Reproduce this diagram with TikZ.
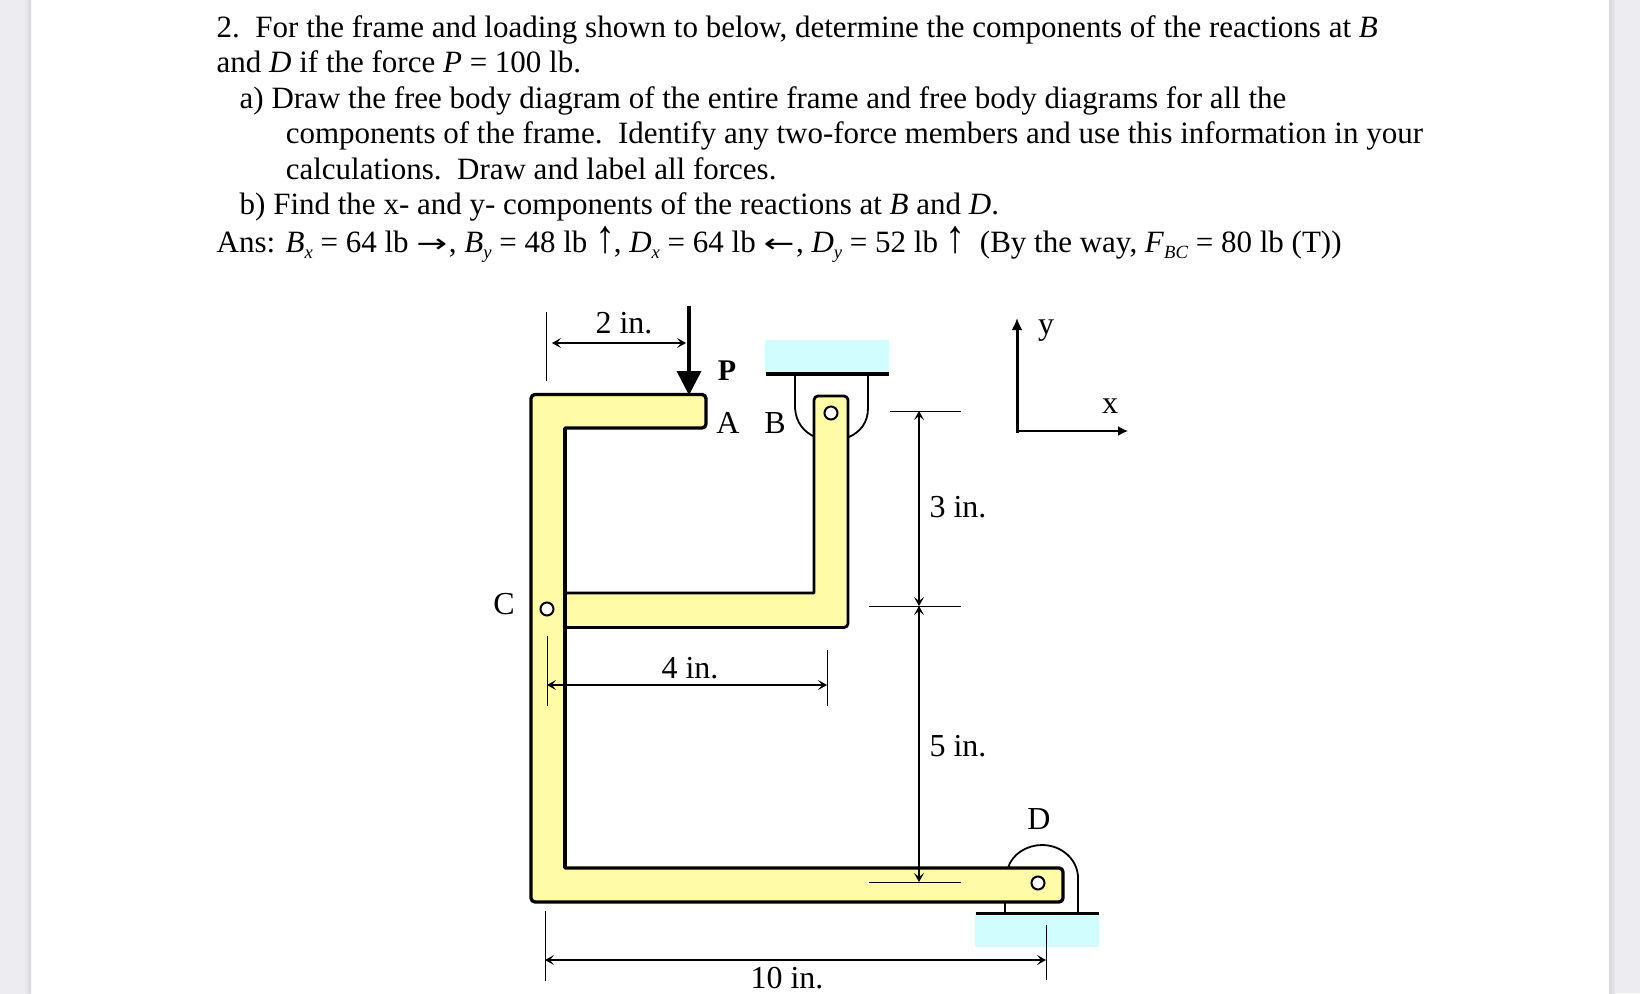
\documentclass[tikz,border=0pt]{standalone}
\usepackage{fontspec}
\setmainfont{Liberation Serif}
\newfontfamily\arrowfont{DejaVu Sans}
\usetikzlibrary{arrows.meta}
\definecolor{frameyellow}{HTML}{FFFBA6}
\definecolor{supportcyan}{HTML}{D2FDFE}
\definecolor{bandgray}{HTML}{ECECF1}
\definecolor{bandedge}{HTML}{D6D6DB}
\tikzset{
  body/.style={line width=3.3pt,draw=black,fill=frameyellow,line join=round},
  pinhole/.style={circle,draw=black,fill=white,line width=2pt,minimum size=13pt,inner sep=0pt},
  ground/.style={fill=supportcyan,draw=none},
  groundline/.style={line width=3.2pt,black},
  clevis/.style={line width=1.8pt,black},
  tick/.style={line width=0.9pt,black},
  dimarrow/.style={line width=1.2pt,black,{Stealth[length=9pt,width=10pt,inset=4pt]}-{Stealth[length=9pt,width=10pt,inset=4pt]}},
  para/.style={anchor=base west,inner sep=0pt,font=\fontsize{31}{34}\selectfont},
  lab/.style={inner sep=0pt,font=\fontsize{32}{34}\selectfont},
}
\newcommand{\Sb}[1]{\raisebox{-0.2em}{\scalebox{0.6}{\textit{#1}}}}
\newcommand{\Ar}[1]{\scalebox{1}[0.7]{\fontsize{37}{37}\selectfont\arrowfont #1}\kern1.5pt}
\newcommand{\Up}{\raisebox{-0.02em}{\scalebox{1.3}[1.5]{↑}}\kern-1.5pt}
\begin{document}
\begin{tikzpicture}[x=1pt,y=-1pt]
\useasboundingbox (0,0) rectangle (1640,993);
\fill[white] (0,0) rectangle (1640,993);
\shade[left color=bandgray,right color=bandgray] (0,0) rectangle (24,993);
\shade[left color=bandgray,right color=bandedge] (24,0) rectangle (31,993);
\shade[left color=bandedge,right color=bandgray] (1609,0) rectangle (1616,993);
\fill[bandgray] (1616,0) rectangle (1640,993);

% text
\node[para] (t1) at (216.5,37) {2.\ \ For the frame and loading shown to below, determine the components of the reactions at \textit{B}};
\node[para] (t2) at (216.5,72) {and \textit{D} if the force \textit{P} = 100 lb.};
\node[para] (t3) at (239.5,108) {a) Draw the free body diagram of the entire frame and free body diagrams for all the};
\node[para] (t4) at (285.6,143) {components of the frame.\ \ Identify any two-force members and use this information in your};
\node[para] (t5) at (285.6,179) {calculations.\ \ Draw and label all forces.};
\node[para] (t6) at (239.5,214) {b) Find the x- and y- components of the reactions at \textit{B} and \textit{D}.};
\node[para] (t7) at (216.5,252) {Ans: \textit{B}\Sb{x} = 64 lb \Ar{→}, \textit{B}\Sb{y} = 48 lb \Up, \textit{D}\Sb{x} = 64 lb \Ar{←}, \textit{D}\Sb{y} = 52 lb \Up\ \ (By the way, \textit{F}\Sb{BC} = 80 lb (T))};

% supports
\fill[ground] (765,340) rectangle (889,373);
\fill[ground] (975,913) rectangle (1099,947);
\draw[groundline] (766,374) -- (889,374);
\draw[groundline] (976,913.5) -- (1099,913.5);
\draw[clevis] (795,374) -- (795,408) .. controls (796,423) and (804,432) .. (815,437);
\draw[clevis] (868,374) -- (868,408) .. controls (868,423) and (860,432) .. (849,437);
\draw[clevis] (1008,868) .. controls (1012,854) and (1027,845) .. (1042,845) .. controls (1062,845) and (1078,860) .. (1078,878) -- (1078,913);
\draw[line width=2.6pt] (1005,902) -- (1005,913);

% frame
\draw[body,rounded corners=4pt] (531,420) -- (531,394.5) -- (706,394.5) -- (706,428) [sharp corners] -- (565,428) -- (565,868) [rounded corners=4pt] -- (1063,868) -- (1063,902) -- (531,902) -- cycle;
\fill[frameyellow] (565,595) rectangle (845,626);
\draw[body,line width=2.8pt,rounded corners=4pt,fill=frameyellow] (565,627.5) -- (848,627.5) -- (848,396) -- (814,396) [sharp corners] -- (814,593) -- (565,593);
\draw[line width=3.3pt] (565,428) -- (565,868);
\node[pinhole] (pinB) at (831,413) {};
\node[pinhole] (pinC) at (547,609) {};
\node[pinhole] (pinD) at (1038,883) {};

% load
\coordinate (ptop) at (689,306);
\coordinate (ptip) at (689,395);
\draw[line width=4.6pt] (ptop) -- (689,374);
\fill (676.5,371) -- (701.5,371) -- (ptip) -- cycle;
\node[lab,font=\fontsize{30}{30}\selectfont\bfseries] (lP) at (727,371) {P};

% labels
\node[lab] (lA) at (728,423) {A};
\node[lab] (lB) at (775,423) {B};
\node[lab] (lC) at (504,604) {C};
\node[lab] (lD) at (1039,819) {D};

% 2 in
\coordinate (a1) at (546,312); \coordinate (a2) at (546,381);
\draw[tick] (a1) -- (a2);
\coordinate (a3) at (552,343); \coordinate (a4) at (686,343);
\draw[dimarrow] (a3) -- (a4);
\node[lab] (d2) at (624,323) {2 in.};

% 3 in / 5 in
\coordinate (b1) at (890,411); \coordinate (b2) at (961,411);
\coordinate (b3) at (869,606); \coordinate (b4) at (961,606);
\coordinate (b5) at (869,882); \coordinate (b6) at (961,882);
\draw[tick] (b1) -- (b2);
\draw[tick] (b3) -- (b4);
\draw[tick] (b5) -- (b6);
\coordinate (c1) at (919,411); \coordinate (c2) at (919,606); \coordinate (c3) at (919,882);
\draw[dimarrow] (c1) -- (c2);
\draw[dimarrow] (c2) -- (c3);
\node[lab] (d3) at (958,507) {3 in.};
\node[lab] (d5) at (958,746) {5 in.};

% 4 in
\coordinate (e1) at (547,636); \coordinate (e2) at (547,706);
\coordinate (e3) at (827,650); \coordinate (e4) at (827,706);
\draw[tick] (e1) -- (e2);
\draw[tick] (e3) -- (e4);
\coordinate (e5) at (547,685); \coordinate (e6) at (827,685);
\draw[dimarrow] (e5) -- (e6);
\node[lab] (d4) at (690,668) {4 in.};

% 10 in
\coordinate (f1) at (545,911); \coordinate (f2) at (545,981);
\coordinate (f3) at (1046,925); \coordinate (f4) at (1046,980);
\draw[tick] (f1) -- (f2);
\draw[tick] (f3) -- (f4);
\coordinate (f5) at (545,960); \coordinate (f6) at (1046,960);
\draw[dimarrow] (f5) -- (f6);
\node[lab] (d10) at (787,978) {10 in.};

% axes
\coordinate (o) at (1017,431);
\coordinate (ax) at (1128,431);
\coordinate (ay) at (1017,318);
\draw[line width=3pt,-{Latex[length=12pt,width=11pt]}] (1017,432.5) -- (ay);
\draw[line width=1.6pt,-{Latex[length=10pt,width=10pt]}] (o) -- (ax);
\node[lab] (ly) at (1046,331) {y};
\node[lab] (lx) at (1110,406) {x};
\end{tikzpicture}
\end{document}
